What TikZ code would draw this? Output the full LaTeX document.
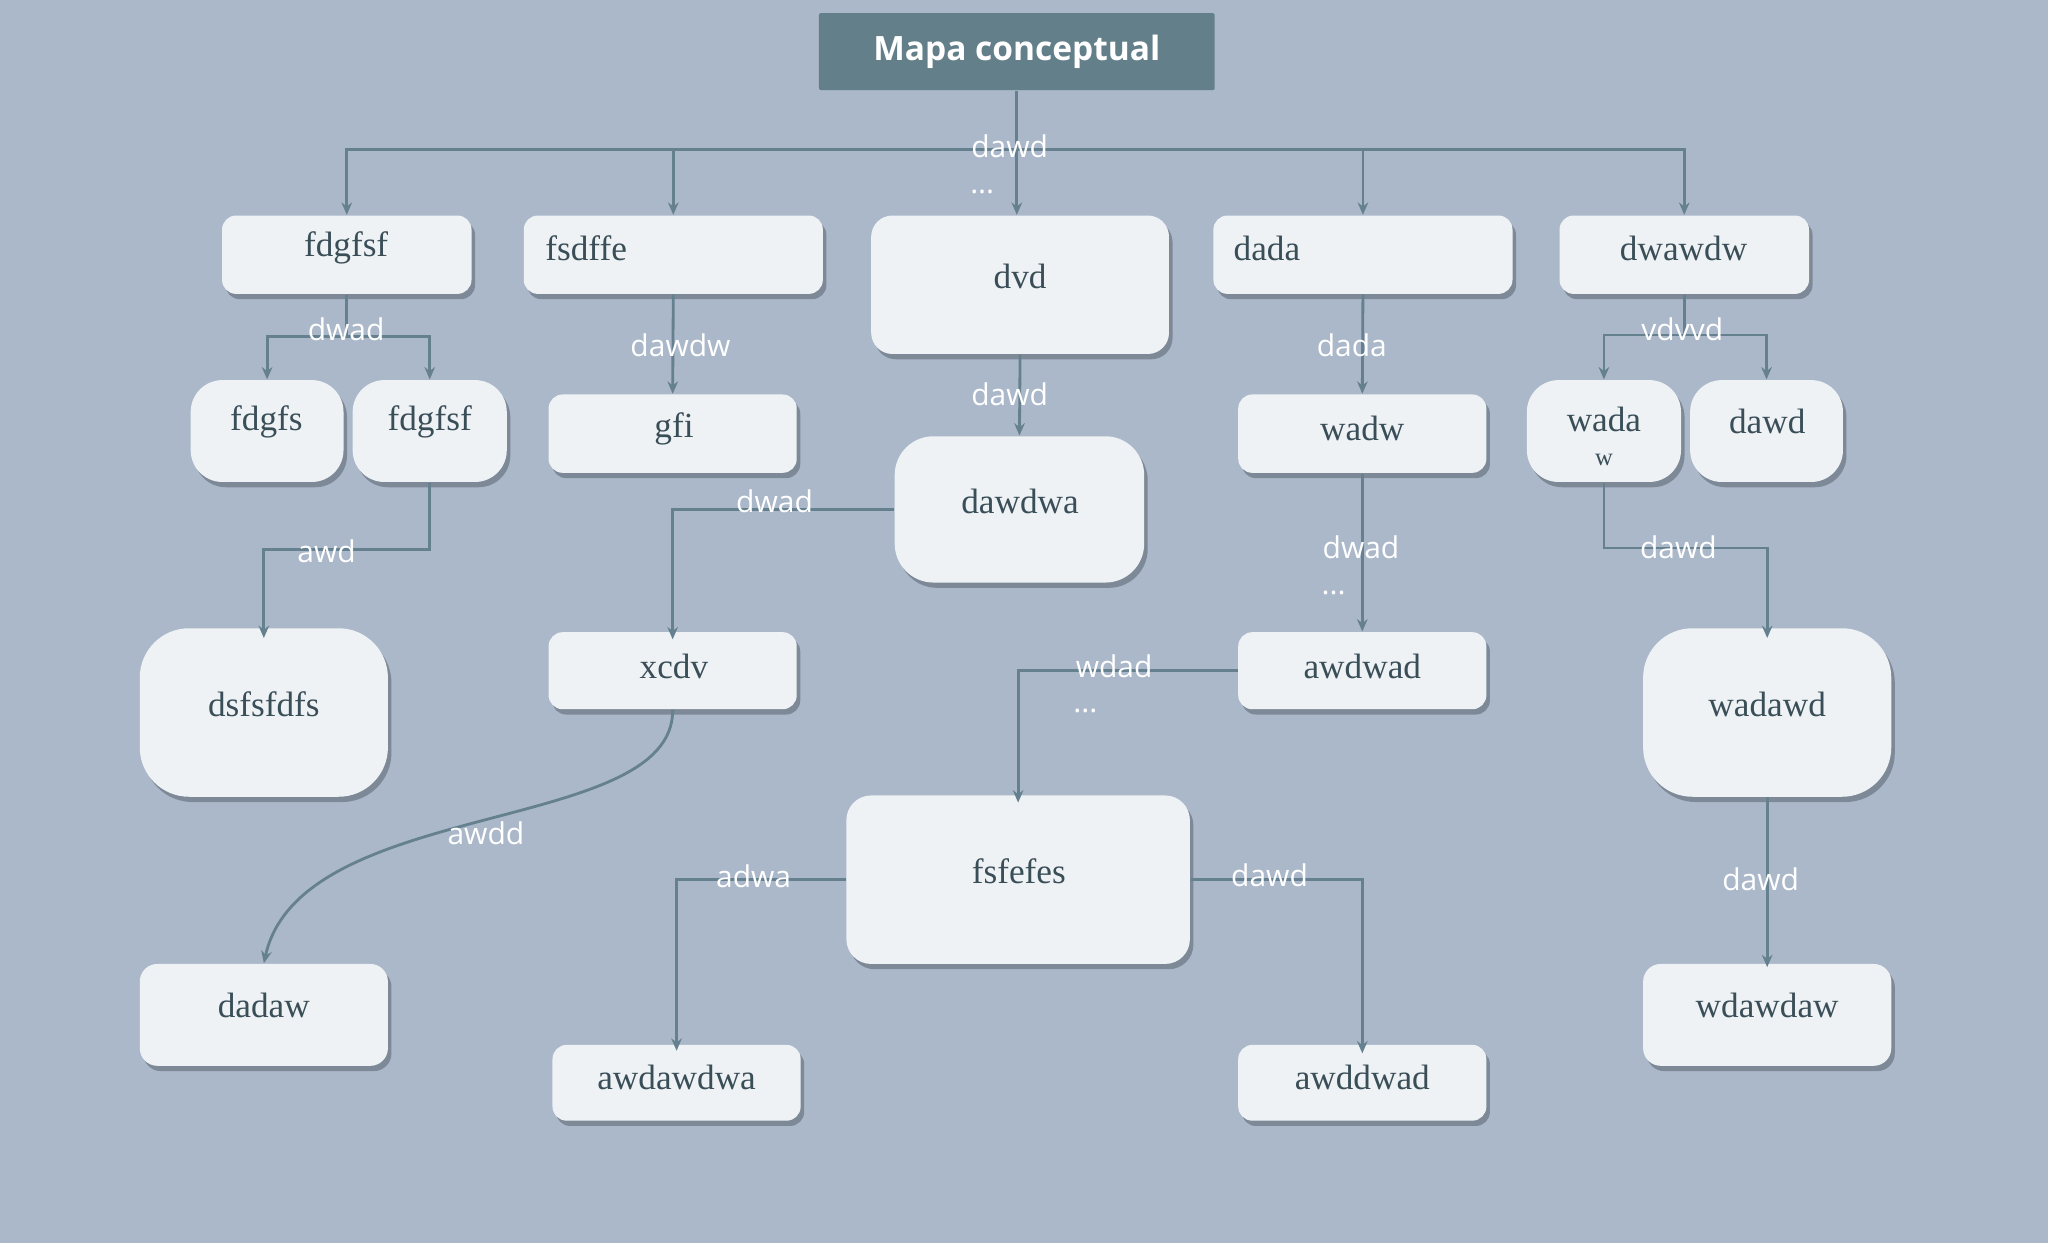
\documentclass[tikz,border=0pt]{standalone}
\usepackage{fontspec}
\setmainfont{Liberation Serif}
\newfontfamily\lblfont{Open Sans}
\usetikzlibrary{arrows.meta,shadows}
\definecolor{bg}{HTML}{ABB8CA}
\definecolor{boxf}{HTML}{EEF2F5}
\definecolor{edg}{HTML}{65808E}
\definecolor{ttl}{HTML}{637F8A}
\definecolor{txtc}{HTML}{3A4E58}
\tikzset{
 box/.style={fill=boxf,draw=none,drop shadow={opacity=0.35,shadow xshift=1pt,shadow yshift=-1.5pt,fill=black!60!edg}},
 txt/.style={text=txtc,font=\fontsize{10}{12}\selectfont,inner sep=0pt},
 lbl/.style={text=white,font=\lblfont\fontsize{8.5}{10}\selectfont,inner sep=0pt},
 ln/.style={draw=edg,line width=0.8pt},
 arr/.style={ln,-{Stealth[length=3.5pt,width=3pt]}}
}
\newcommand\bx[6]{%
 \pgfmathsetmacro\ww{(#4-#2)*0.3705}\pgfmathsetmacro\hh{(#5-#3)*0.3705}%
 \node[box,rounded corners=#6pt,minimum width=\ww pt,minimum height=\hh pt,inner sep=0pt] (#1) at ({(#2+#4)/2},{(#3+#5)/2}) {};}
\begin{document}
\begin{tikzpicture}[x=0.3705pt,y=-0.3705pt]
\fill[bg] (0,0) rectangle (1568,952);
\useasboundingbox (0,0) rectangle (1568,952);
% title
\node[fill=ttl,minimum width=303*0.3705pt,minimum height=59*0.3705pt,inner sep=0pt,rounded corners=0.6pt,text=white,font=\lblfont\bfseries\fontsize{9.5}{11}\selectfont] (title) at (778.5,39.5) {Mapa conceptual};
% boxes
\bx{b1}{170}{165}{361}{225}{4}
\bx{b2}{401}{165}{630}{225}{4}
\bx{b3}{667}{165}{895}{271}{6}
\bx{b4}{929}{165}{1158}{225}{4}
\bx{b5}{1194}{165}{1385}{225}{4}
\bx{c1}{146}{291}{263}{369}{9}
\bx{c2}{270}{291}{388}{369}{9}
\bx{c3}{420}{302}{610}{362}{4}
\bx{c4}{685}{334}{876}{446}{11}
\bx{c5}{948}{302}{1138}{362}{4}
\bx{c6}{1169}{291}{1287}{369}{9}
\bx{c7}{1294}{291}{1411}{369}{9}
\bx{d1}{107}{481}{297}{610}{14}
\bx{d2}{420}{484}{610}{543}{4}
\bx{d3}{948}{484}{1138}{543}{4}
\bx{d4}{1258}{481}{1448}{610}{14}
\bx{e1}{648}{609}{911}{738}{7}
\bx{f1}{107}{738}{297}{816}{5}
\bx{f2}{423}{800}{613}{858}{4}
\bx{f3}{948}{800}{1138}{858}{4}
\bx{f4}{1258}{738}{1448}{816}{5}
% texts
\node[txt] (t1) at (265,190) {fdgfsf};
\node[txt,anchor=west] (t2) at (417,190) {fsdffe};
\node[txt] (t3) at (781,212) {dvd};
\node[txt,anchor=west] (t4) at (944,190) {dada};
\node[txt] (t5) at (1289,190) {dwawdw};
\node[txt] (t6) at (204,323) {fdgfs};
\node[txt] (t7) at (329,323) {fdgfsf};
\node[txt] (t8) at (516,328) {gfi};
\node[txt] (t9) at (781,384) {dawdwa};
\node[txt] (t10) at (1043,328) {wadw};
\node[txt] (t11) at (1228,321) {wada};
\node[txt,font=\fontsize{7}{8}\selectfont] (t11b) at (1228,352) {w};
\node[txt] (t12) at (1353,323) {dawd};
\node[txt] (t13) at (202,539) {dsfsfdfs};
\node[txt] (t14) at (516,510) {xcdv};
\node[txt] (t15) at (1043,510) {awdwad};
\node[txt] (t16) at (1353,539) {wadawd};
\node[txt] (t17) at (780,667) {fsfefes};
\node[txt] (t18) at (202,770) {dadaw};
\node[txt] (t19) at (518,825) {awdawdwa};
\node[txt] (t20) at (1043,825) {awddwad};
\node[txt] (t21) at (1353,770) {wdawdaw};
% connectors from title
\foreach \n in {b1,b2,b4,b5}{\draw[arr] (title.south) -- ++(0,45) -| (\n.north);}
\draw[arr] (title.south) -- (title.south |- b3.north);
\node[lbl] (l0) at (773,112) {dawd};
\node[lbl] (l0b) at (752,147) {...};
% level 2
\draw[arr] (b1.south) -- ++(0,32) -| (c1.north);
\draw[arr] (b1.south) -- ++(0,32) -| (c2.north);
\node[lbl] (l1) at (265,252) {dwad};
\draw[arr] (b2.south) -- (c3.north);
\node[lbl] (l2) at (521,264) {dawdw};
\draw[arr] (b3.south) -- (c4.north);
\node[lbl] (l3) at (773,302) {dawd};
\draw[arr] (b4.south) -- (c5.north);
\node[lbl] (l4) at (1035,264) {dada};
\draw[arr] (b5.south) -- ++(0,31) -| (c6.north);
\draw[arr] (b5.south) -- ++(0,31) -| (c7.north);
\node[lbl] (l5) at (1288,252) {vdvvd};
% level 3
\draw[arr] (c2.south) -- ++(0,51) -| ([yshift=-8*0.3705pt]d1.north);
\node[lbl] (l6) at (250,422) {awd};
\draw[arr] (c4.west) -| ([yshift=-6*0.3705pt]d2.north);
\node[lbl] (l7) at (593,384) {dwad};
\draw[arr] (c5.south) -- (d3.north);
\node[lbl] (l8) at (1042,419) {dwad};
\node[lbl] (l8b) at (1021,454) {...};
\draw[arr] (c6.south) -- ++(0,50) -| ([yshift=-8*0.3705pt]d4.north);
\node[lbl] (l9) at (1285,419) {dawd};
% level 4
\draw[arr] (d3.west) -| ([yshift=-6*0.3705pt]e1.north);
\node[lbl] (l10) at (853,510) {wdad};
\node[lbl] (l10b) at (831,544) {...};
\draw[arr] (d2.south) .. controls (516,640) and (230,610) .. (f1.north);
\node[lbl] (l11) at (372,638) {awdd};
\draw[arr] (e1.west) -| ([yshift=-5*0.3705pt]f2.north);
\node[lbl] (l12) at (577,671) {adwa};
\draw[arr] (e1.east) -| ([yshift=-7*0.3705pt]f3.north);
\node[lbl] (l13) at (972,670) {dawd};
\draw[arr] (d4.south) -- ([yshift=-3*0.3705pt]f4.north);
\node[lbl] (l14) at (1348,673) {dawd};
\end{tikzpicture}
\end{document}
